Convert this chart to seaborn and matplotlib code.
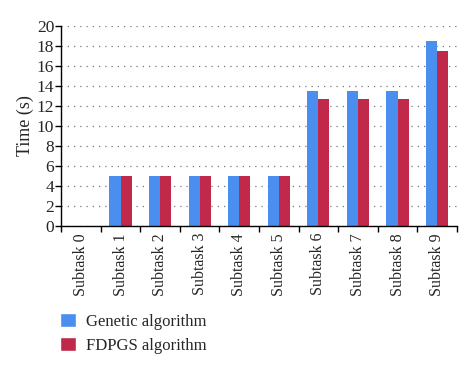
import numpy as np
import pandas as pd
import seaborn as sns
import matplotlib.pyplot as plt
from matplotlib.patches import Patch

subtasks = ["Subtask 0", "Subtask 1", "Subtask 2", "Subtask 3", "Subtask 4",
            "Subtask 5", "Subtask 6", "Subtask 7", "Subtask 8", "Subtask 9"]
genetic = [0, 5, 5, 5, 5, 5, 13.5, 13.5, 13.5, 18.5]
fdpgs = [0, 5, 5, 5, 5, 5, 12.75, 12.75, 12.75, 17.5]
series = ["Genetic algorithm", "FDPGS algorithm"]
colors = ["#4a8ff0", "#c0294a"]

df = pd.DataFrame({
    "subtask": subtasks * 2,
    "time": genetic + fdpgs,
    "algo": [series[0]] * len(subtasks) + [series[1]] * len(subtasks),
})

sns.set_style("white")
plt.rcParams['font.family'] = ['Liberation Serif', 'DejaVu Serif']

fig = plt.figure(figsize=(4.74, 3.68), dpi=100)
ax = fig.add_axes([0.129, 0.386, 0.835, 0.543])

sns.barplot(data=df, x="subtask", y="time", hue="algo", palette=colors,
            width=0.56, saturation=1, linewidth=0, ax=ax, legend=False)

ax.set_ylim(0, 20)
ax.set_xlim(-0.5, len(subtasks) - 0.5)
ax.set_yticks(np.arange(0, 21, 2))
ax.set_ylabel("Time (s)", fontsize=13, labelpad=2)
ax.set_xlabel("")
ax.yaxis.grid(True, linestyle=(0, (1, 4)), color="#777777", linewidth=0.9)
ax.set_axisbelow(True)

for s in ["top", "right"]:
    ax.spines[s].set_visible(False)
for s in ["left", "bottom"]:
    ax.spines[s].set_color("black")
    ax.spines[s].set_linewidth(1.0)

ax.tick_params(axis="y", labelsize=12.5, length=4, width=1, color="black", direction="out", left=True, pad=1)
ax.set_xticks(range(len(subtasks)))
ax.set_xticklabels(subtasks, rotation=90, fontsize=11.5)
ax.tick_params(axis="x", which="major", length=0, pad=5)
ax.set_xticks(np.arange(-0.5, len(subtasks), 1), minor=True)
ax.tick_params(axis="x", which="minor", length=4, width=1, color="black", bottom=True)

handles = [Patch(facecolor=c, label=l) for c, l in zip(colors, series)]
fig.legend(handles=handles, loc="upper left", bbox_to_anchor=(0.095, 0.19),
           frameon=False, fontsize=12, handlelength=0.95, handleheight=0.95,
           handletextpad=0.6, labelspacing=0.4)

fig.savefig("out.png", dpi=100)
